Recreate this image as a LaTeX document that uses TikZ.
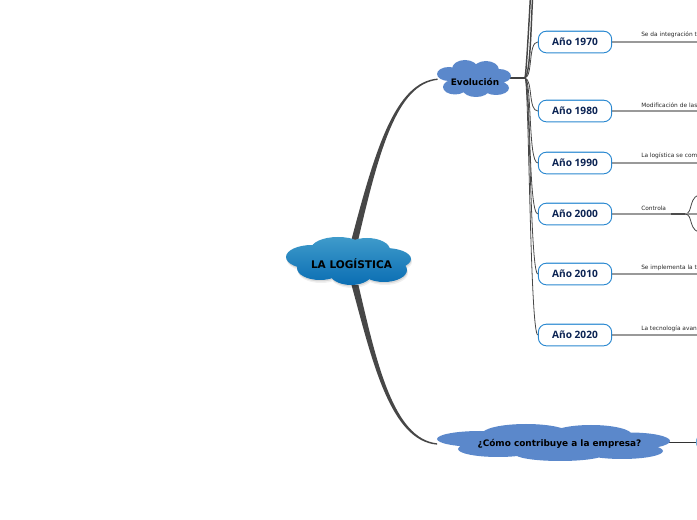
\documentclass[tikz,border=0pt]{standalone}
\usepackage{fontspec}
\setmainfont{DejaVu Sans}
\newfontfamily\yearfont{Open Sans}
\usepackage{xcolor}
\usetikzlibrary{backgrounds}

\definecolor{cloudblue}{HTML}{5B88CB}
\definecolor{rootlight}{HTML}{3F9BCB}
\definecolor{rootdark}{HTML}{0A6DB3}
\definecolor{yearblue}{HTML}{2A88D0}
\definecolor{yearlight}{HTML}{8CC4EC}
\definecolor{yearnavy}{HTML}{0B2353}

\newcommand{\rootlobes}{
    (312,257) ellipse [x radius=26, y radius=12]
    (338,249) ellipse [x radius=27, y radius=12]
    (367,250) ellipse [x radius=23, y radius=12]
    (385,259) ellipse [x radius=26, y radius=11]
    (320,268) ellipse [x radius=23, y radius=12]
    (351,272) ellipse [x radius=22, y radius=13]
    (384,270) ellipse [x radius=23, y radius=12]
    (349,260) ellipse [x radius=40, y radius=14]
}

\begin{document}
\begin{tikzpicture}[
            x=0.75pt, y=-0.75pt,
            rootnode/.style={minimum width=89pt, minimum height=31pt, inner sep=0pt, font=\fontsize{7.9pt}{9pt}\selectfont\bfseries},
            topic/.style={inner sep=0pt, font=\fontsize{6.7pt}{8pt}\selectfont\bfseries},
            year/.style={rectangle, rounded corners=6pt, draw=yearblue, fill=white, line width=0.7pt,
                minimum width=55pt, minimum height=16.2pt, inner sep=0pt, text=yearnavy,
                font=\yearfont\fontsize{7.6pt}{9pt}\selectfont\bfseries,
                path picture={\draw[yearlight, line width=1.6pt] (path picture bounding box.north west) -- (path picture bounding box.north east);}},
            note/.style={anchor=west, inner sep=0pt, text=black!85, font=\fontsize{4.4pt}{5pt}\selectfont},
            trunk/.style={fill=black!72},
            branch/.style={draw=black!72, line width=0.6pt},
            leaf/.style={draw=black!40, line width=1pt}
        ]
        \useasboundingbox (0,0) rectangle (697,520);
        \clip (0,0) rectangle (697,520);

        % Clouds
        \fill[black, opacity=0.06] [shift={(1,3)}] \rootlobes;
        \fill[black, opacity=0.10] [shift={(0.5,1.5)}] \rootlobes;
        \shade[top color=rootlight, bottom color=rootdark] \rootlobes;

        \fill[cloudblue]
            (449,74) ellipse [x radius=12, y radius=7]
            (465,69) ellipse [x radius=13, y radius=9]
            (486,70) ellipse [x radius=13, y radius=9]
            (499,76) ellipse [x radius=12, y radius=7]
            (496,88) ellipse [x radius=13, y radius=7]
            (476,90) ellipse [x radius=13, y radius=7]
            (455,87) ellipse [x radius=12, y radius=7.5]
            (475,79) ellipse [x radius=26, y radius=13];

        \fill[cloudblue]
            (480,439) ellipse [x radius=43, y radius=8]
            (526,434) ellipse [x radius=44, y radius=10]
            (591,435) ellipse [x radius=41, y radius=10]
            (630,441) ellipse [x radius=40, y radius=8.5]
            (622,451) ellipse [x radius=41, y radius=8]
            (560,454) ellipse [x radius=45, y radius=7]
            (498,449) ellipse [x radius=40, y radius=8]
            (555,443) ellipse [x radius=90, y radius=13];

        % Nodes (manual layout to match figure)
        \node[rootnode] (root) at (351.5,264) {LA LOGÍSTICA};
        \node[topic, minimum width=55.5pt, minimum height=27pt] (evo) at (475,82) {Evolución};
        \node[topic, minimum width=183pt, minimum height=27pt] (ask) at (559.5,444) {¿Cómo contribuye a la empresa?};

        \node[year] (y1970) at (575,42) {Año 1970};
        \node[year] (y1980) at (575,111) {Año 1980};
        \node[year] (y1990) at (575,163) {Año 1990};
        \node[year] (y2000) at (575,214) {Año 2000};
        \node[year] (y2010) at (575,274) {Año 2010};
        \node[year] (y2020) at (575,335) {Año 2020};

        \node[note] (n1970) at (641,35) {Se da integración t};
        \node[note] (n1980) at (641,105) {Modificación de las};
        \node[note] (n1990) at (641,156) {La logística se com};
        \node[note] (n2000) at (641,208) {Controla};
        \node[note] (n2010) at (641,268) {Se implementa la t};
        \node[note] (n2020) at (641,329) {La tecnología avan};

        \node[fill=yearblue!70!white, rounded corners=3pt, minimum width=21pt, minimum height=9pt, inner sep=0pt] (nextbox) at (710,442) {};

        % Free ends
        \coordinate (knot) at (525,78);
        \coordinate (up1) at (538,-60);
        \coordinate (up2) at (538,-130);
        \coordinate (fork) at (685,214);
        \coordinate (forkin) at (671,214);
        \coordinate (e1970) at (700,42);
        \coordinate (e1980) at (700,111);
        \coordinate (e1990) at (700,163);
        \coordinate (e2000a) at (704,194);
        \coordinate (e2000b) at (700,214);
        \coordinate (e2000c) at (704,233);
        \coordinate (e2010) at (700,274);
        \coordinate (e2020) at (700,335);

        % Edges
        \begin{scope}[on background layer]
            \clip (0,0) rectangle (697,520);

            \fill[trunk] ([xshift=-0.7pt]root.north) .. controls (375,150) and (395,82) .. ([yshift=2.6pt]evo.west)
                -- ([yshift=1.6pt]evo.west)
                .. controls (397,84) and (379,150) .. ([xshift=4.5pt]root.north) -- cycle;
            \fill[trunk] (root.south) .. controls (372,360) and (390,441) .. ([yshift=-0.5pt]ask.west)
                -- ([yshift=0.5pt]ask.west)
                .. controls (393,439) and (376,360) .. ([xshift=5.2pt]root.south) -- cycle;

            \draw[black!75, line width=1.9pt] ([yshift=3pt]evo.center) -- (knot);

            \draw[branch, line width=1.1pt] (knot) .. controls (533,70) and (530,-20) .. (up1);
            \draw[branch, line width=1.1pt] (knot) .. controls (527,70) and (532,-40) .. (up2);
            \draw[branch] (knot) .. controls (533,76) and (528,42) .. (y1970.west);
            \draw[branch] (knot) .. controls (533,80) and (528,111) .. (y1980.west);
            \draw[branch] (knot) .. controls (532,80) and (528,163) .. (y1990.west);
            \draw[branch] (knot) .. controls (531,80) and (528,214) .. (y2000.west);
            \draw[branch] (knot) .. controls (530,80) and (530,274) .. (y2010.west);
            \draw[branch] (knot) .. controls (529,80) and (530,335) .. (y2020.west);

            \draw[leaf] (y1970.east) -- (e1970);
            \draw[leaf] (y1980.east) -- (e1980);
            \draw[leaf] (y1990.east) -- (e1990);
            \draw[leaf] (y2010.east) -- (e2010);
            \draw[leaf] (y2020.east) -- (e2020);

            \draw[leaf, line width=0.8pt] (y2000.east) -- (forkin);
            \draw[black!70, line width=1.2pt] (forkin) -- (fork);
            \draw[branch] (fork) .. controls (694,214) and (687,194) .. (e2000a);
            \draw[leaf] (fork) -- (e2000b);
            \draw[branch] (fork) .. controls (694,214) and (687,233) .. (e2000c);

            \draw[black!80, line width=0.6pt] ([yshift=1.5pt]ask.center) -- (nextbox.center);
        \end{scope}

    \end{tikzpicture}
\end{document}
